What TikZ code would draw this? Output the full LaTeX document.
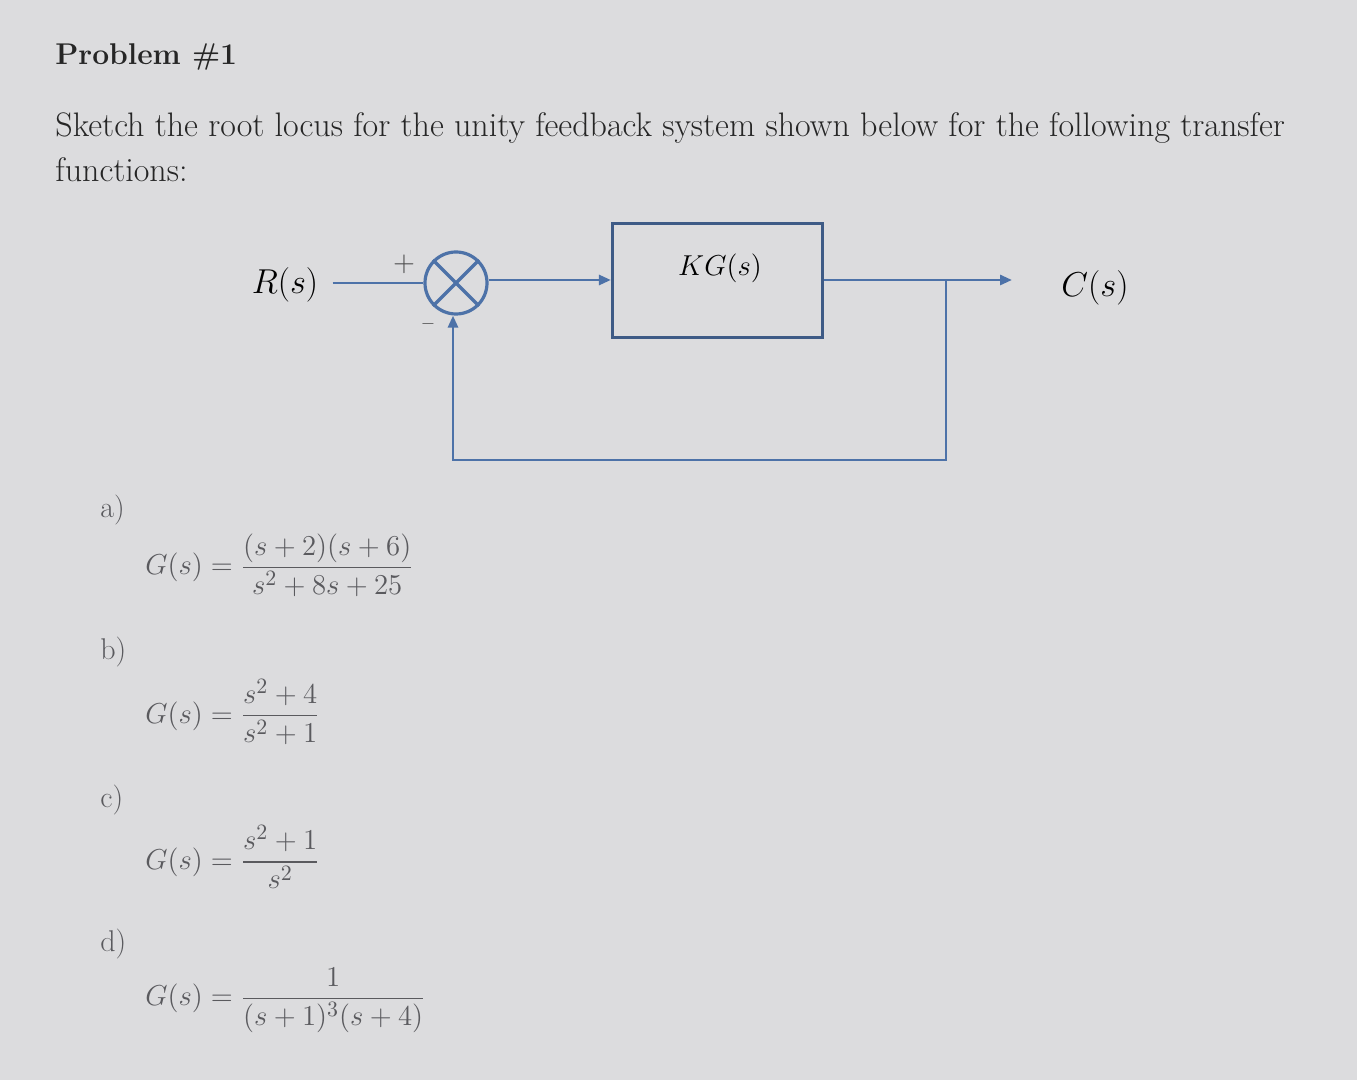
\documentclass[tikz,border=0pt]{standalone}
\usepackage{amsmath}
\usetikzlibrary{arrows.meta}
\definecolor{bg}{HTML}{DCDCDE}
\definecolor{ln}{HTML}{4D72A8}
\definecolor{eq}{HTML}{5A5A5E}
\tikzset{wire/.style={ln,line width=1.4pt},arr/.style={wire,-{Triangle[length=6pt,width=5pt]}},
 lab/.style={anchor=west,inner sep=0,font=\fontsize{17}{20}\selectfont,text=black!85},
 eqn/.style={anchor=west,inner sep=0,text=eq,font=\fontsize{15}{18}\selectfont}}
\begin{document}
\begin{tikzpicture}[x=0.5pt,y=-0.5pt]
\fill[bg] (0,0) rectangle (1357,1080);
\useasboundingbox (0,0) rectangle (1357,1080);
\node[lab,font=\fontsize{15}{18}\selectfont\bfseries] (title) at (55,57) {Problem \#1};
\node[lab] (l1) at (55,128) {Sketch the root locus for the unity feedback system shown below for the following transfer};
\node[lab] (l2) at (55,170) {functions:};
\node[inner sep=0,font=\fontsize{16}{18}\selectfont] (R) at (285,285) {$R(s)$};
\node[draw=ln,circle,line width=1.6pt,minimum size=31pt,inner sep=0] (sum) at (456,283) {};
\draw[ln,line width=1.6pt] (sum.north west)--(sum.south east) (sum.north east)--(sum.south west);
\node[inner sep=0,font=\fontsize{14}{16}\selectfont,text=black!70] (plus) at (404,264) {$+$};
\node[inner sep=0,font=\fontsize{9}{12}\selectfont,text=black!70] (minus) at (428,324) {$-$};
\node[draw=ln!80!black,line width=1.6pt,minimum width=105pt,minimum height=57pt,inner sep=0] (box) at (717.5,280.5) {};
\node[inner sep=0,font=\fontsize{15}{18}\selectfont] (kg) at (720,268) {$KG(s)$};
\node[inner sep=0,font=\fontsize{16}{18}\selectfont] (C) at (1095,288) {$C(s)$};
\coordinate (o) at (1012,280);
\coordinate (t) at (946,280);
\coordinate (b1) at (946,460);
\coordinate (b2) at (453,460);
\draw[wire,line width=1pt] (R.east)++(14,-2) -- (sum.west);
\draw[arr] (sum.east |- 0,280) -- (box.west |- 0,280);
\draw[arr] (box.east |- 0,280) -- (o);
\draw[arr] (t) -- (b1) -- (b2) -- (sum.south -| b2);
\node[eqn] (a) at (100,510) {a)};
\node[eqn] (ea) at (145,565) {$G(s)=\dfrac{(s+2)(s+6)}{s^2+8s+25}$};
\node[eqn] (b) at (100,652) {b)};
\node[eqn] (eb) at (145,712) {$G(s)=\dfrac{s^2+4}{s^2+1}$};
\node[eqn] (c) at (100,800) {c)};
\node[eqn] (ec) at (145,857) {$G(s)=\dfrac{s^2+1}{s^2}$};
\node[eqn] (d) at (100,944) {d)};
\node[eqn] (ed) at (145,1000) {$G(s)=\dfrac{1}{(s+1)^3(s+4)}$};
\end{tikzpicture}
\end{document}
